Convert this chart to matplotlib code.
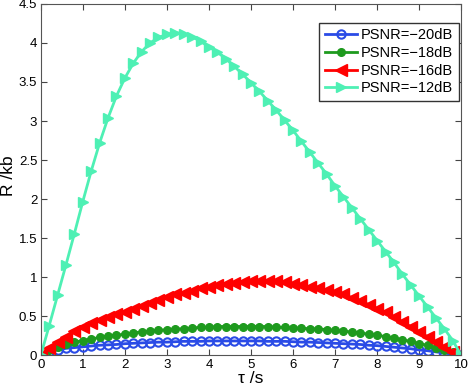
import numpy as np
import matplotlib
matplotlib.use('Agg')
import matplotlib.pyplot as plt

plt.rcParams['font.family'] = ['Liberation Sans', 'DejaVu Sans']

tau = [0.0, 0.2, 0.4, 0.6, 0.8, 1.0, 1.2, 1.4, 1.6, 1.8,
       2.0, 2.2, 2.4, 2.6, 2.8, 3.0, 3.2, 3.4, 3.6, 3.8,
       4.0, 4.2, 4.4, 4.6, 4.8, 5.0, 5.2, 5.4, 5.6, 5.8,
       6.0, 6.2, 6.4, 6.6, 6.8, 7.0, 7.2, 7.4, 7.6, 7.8,
       8.0, 8.2, 8.4, 8.6, 8.8, 9.0, 9.2, 9.4, 9.6, 9.8, 10.0]

r_20 = [0.0, 0.05, 0.07, 0.09, 0.10, 0.11, 0.12, 0.13, 0.135, 0.14,
        0.15, 0.155, 0.16, 0.165, 0.17, 0.17, 0.175, 0.18, 0.18, 0.18,
        0.185, 0.185, 0.185, 0.185, 0.185, 0.185, 0.185, 0.18, 0.18, 0.18,
        0.175, 0.17, 0.17, 0.165, 0.16, 0.155, 0.15, 0.145, 0.14, 0.13,
        0.125, 0.115, 0.105, 0.095, 0.085, 0.07, 0.06, 0.045, 0.03, 0.015, 0.0]

r_18 = [0.0, 0.07, 0.11, 0.14, 0.17, 0.19, 0.21, 0.23, 0.25, 0.26,
        0.27, 0.29, 0.30, 0.31, 0.32, 0.33, 0.34, 0.34, 0.35, 0.36,
        0.36, 0.37, 0.37, 0.37, 0.37, 0.37, 0.37, 0.37, 0.36, 0.36,
        0.35, 0.35, 0.34, 0.34, 0.33, 0.32, 0.31, 0.30, 0.29, 0.27,
        0.26, 0.24, 0.22, 0.20, 0.18, 0.15, 0.13, 0.10, 0.07, 0.04, 0.0]

r_16 = [0.0, 0.10, 0.17, 0.24, 0.31, 0.37, 0.41, 0.45, 0.49, 0.53,
        0.56, 0.60, 0.63, 0.67, 0.71, 0.75, 0.78, 0.80, 0.83, 0.86,
        0.88, 0.90, 0.92, 0.93, 0.94, 0.95, 0.95, 0.95, 0.95, 0.94,
        0.92, 0.90, 0.88, 0.86, 0.84, 0.81, 0.78, 0.74, 0.70, 0.65,
        0.60, 0.55, 0.49, 0.43, 0.37, 0.30, 0.24, 0.17, 0.11, 0.05, 0.0]

r_12 = [0.0, 0.38, 0.77, 1.16, 1.56, 1.97, 2.36, 2.72, 3.04, 3.32,
        3.55, 3.74, 3.89, 4.00, 4.07, 4.11, 4.13, 4.12, 4.08, 4.02,
        3.95, 3.88, 3.80, 3.70, 3.60, 3.49, 3.38, 3.26, 3.14, 3.01,
        2.88, 2.74, 2.60, 2.46, 2.32, 2.17, 2.03, 1.89, 1.75, 1.61,
        1.47, 1.33, 1.19, 1.04, 0.90, 0.76, 0.62, 0.48, 0.34, 0.19, 0.0]

fig = plt.figure(figsize=(4.74, 3.88), dpi=100)
ax = fig.add_axes([0.086, 0.084, 0.887, 0.906])

ax.plot(tau, r_20, color='#2a4be6', marker='o', markersize=6, markerfacecolor='none',
        markeredgewidth=1.5, linewidth=2, label='PSNR=\u221220dB')
ax.plot(tau, r_18, color='#1e9a1e', marker='o', markersize=5.5, linewidth=2,
        label='PSNR=\u221218dB')
ax.plot(tau, r_16, color='#ff0000', marker='<', markersize=8.5, linewidth=2,
        label='PSNR=\u221216dB')
ax.plot(tau, r_12, color='#4ef0b4', marker='>', markersize=7, linewidth=2,
        label='PSNR=\u221212dB')

ax.set_xlim(0, 10)
ax.set_ylim(0, 4.5)
ax.set_xticks(np.arange(0, 11, 1))
ax.set_yticks(np.arange(0, 4.6, 0.5))
ax.set_yticklabels(['0', '0.5', '1', '1.5', '2', '2.5', '3', '3.5', '4', '4.5'])
ax.tick_params(direction='in', top=True, right=True, labelsize=9.5, length=4,
               color='#444444', pad=2.5)
for s in ax.spines.values():
    s.set_color('#555555')

ax.set_xlabel('\u03c4 /s', fontsize=12.5)
ax.set_ylabel('R /kb', fontsize=12.5)
ax.xaxis.set_label_coords(0.5, -0.045)
ax.yaxis.set_label_coords(-0.058, 0.51)

leg = ax.legend(loc='upper right', bbox_to_anchor=(0.995, 0.947), borderaxespad=0,
                fontsize=10.5, handlelength=2.2, fancybox=False, framealpha=1,
                labelspacing=0.25, handletextpad=0.3, borderpad=0.4)
leg.get_frame().set_edgecolor('#333333')
leg.get_frame().set_linewidth(1.0)

plt.savefig('out.png', dpi=100)
